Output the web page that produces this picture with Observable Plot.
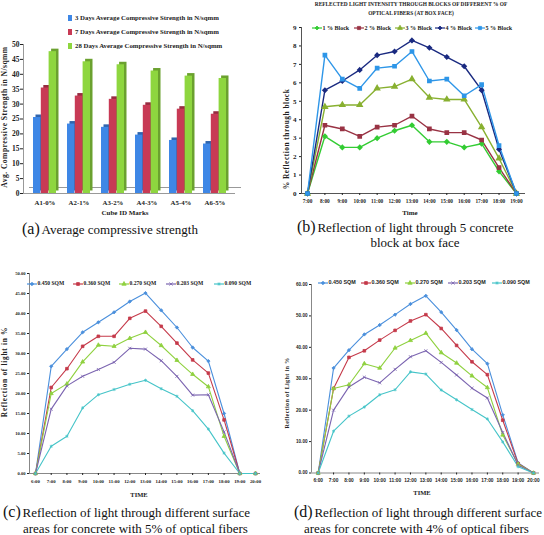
<!DOCTYPE html>
<html><head><meta charset="utf-8">
<script src="https://cdn.jsdelivr.net/npm/d3@7"></script>
<script src="https://cdn.jsdelivr.net/npm/@observablehq/plot@0.6"></script>
<style>
body{margin:0;background:#fff}
#root{position:relative;width:544px;height:535px;overflow:hidden;background:#fff}
.abs{position:absolute;white-space:nowrap;line-height:1}
.plot{position:absolute}
</style></head><body><div id="root"></div>
<script>
// ---------- DATA ----------
const cubeIds = ["A1-0%","A2-1%","A3-2%","A4-3%","A5-4%","A6-5%"];
const strengthSeries = [
  "3 Days Average Compressive Strength in N/sqmm",
  "7 Days Average Compressive Strength in N/sqmm",
  "28 Days Average Compressive Strength in N/sqmm"
];
const days3 = [25.5, 23.3, 22.2, 19.6, 17.8, 16.6];
const days7 = [35.4, 32.7, 31.6, 29.6, 28.3, 26.6];
const days28 = [47.6, 44.2, 43.2, 41.1, 39.4, 38.6];
const strengthTicks = [0,5,10,15,20,25,30,35,40,45,50];

const hoursB = [7,8,9,10,11,12,13,14,15,16,17,18,19];
const blockNames = ["1 % Block","2 % Block","3 % Block","4 % Block","5 % Block"];
const block1 = [0,3.1,2.5,2.5,3.0,3.4,3.7,2.8,2.8,2.5,2.7,1.2,0];
const block2 = [0,3.7,3.5,3.1,3.6,3.7,4.2,3.5,3.3,3.3,2.9,1.4,0];
const block3 = [0,4.7,4.8,4.8,5.7,5.8,6.2,5.2,5.1,5.1,3.6,1.9,0];
const block4 = [0,5.6,6.1,6.7,7.5,7.7,8.3,7.9,7.4,6.9,5.6,2.4,0];
const block5 = [0,7.5,6.2,5.7,6.8,6.9,7.7,6.1,6.2,5.3,5.9,2.6,0];
const blockTicks = [0,1,2,3,4,5,6,7,8,9];

const hoursCD = [6,7,8,9,10,11,12,13,14,15,16,17,18,19,20];
const areaNames = ["0.450 SQM","0.360 SQM","0.270 SQM","0.203 SQM","0.090 SQM"];
const c450 = [0,26.8,31.1,35.3,37.8,40.3,43.0,45.1,40.8,36.5,31.5,28.1,15.0,0,0];
const c360 = [0,21.5,26.2,31.8,34.3,34.3,38.8,40.6,36.8,32.6,28.4,25.1,13.4,0,0];
const c270 = [0,20.0,22.4,27.9,32.1,31.8,33.8,35.3,32.0,28.3,24.8,21.7,9.3,0,0];
const c203 = [0,16.1,21.9,24.3,26.0,27.8,31.3,31.1,28.2,24.3,19.6,19.7,10.4,0,0];
const c090 = [0,6.8,9.3,16.4,19.7,21.0,22.3,23.3,21.2,19.3,15.7,11.1,5.1,0,0];
const cTicks = [0,5,10,15,20,25,30,35,40,45,50];

const d450 = [0,33.4,39.1,44.1,47.1,50.4,53.8,56.4,51.2,45.5,39.4,34.8,18.5,3.2,0];
const d360 = [0,26.9,36.8,38.9,42.3,45.4,48.4,50.4,46.0,40.6,35.4,31.3,16.8,3.0,0];
const d270 = [0,26.9,28.1,34.8,33.4,39.8,42.2,44.5,38.3,35.0,30.9,27.2,12.1,2.8,0];
const d203 = [0,20.0,27.4,30.5,28.7,33.0,37.0,38.9,35.2,31.2,27.0,23.9,12.9,2.5,0];
const d090 = [0,13.3,18.1,21.0,24.9,26.5,32.2,31.5,26.4,23.3,20.2,17.2,9.9,2.0,0];
const dTicks = [0,10,20,30,40,50,60];

// ---------- STYLE ----------
const strengthColors = ["#3e87e6","#c83a55","#8ed63f"];
const blockColors = ["#33cc33","#993344","#88b030","#1a2a80","#2e96e8"];
const blockSymbols = ["diamond2","square","triangle","diamond2","square"];
const areaColors = ["#4a8fdc","#c53a4a","#8fd13f","#7b64b0","#45c4c8"];
const areaSymbols = ["diamond2","square","triangle","times","asterisk"];
const SERIF = '"Liberation Serif", serif';
const SANS = '"Liberation Sans", Arial, sans-serif';

const root = document.getElementById("root");
function tidy(hours, names, values) {
  return names.flatMap((s, j) => hours.map((h, i) => ({hour: h, series: s, value: values[j][i]})));
}
function addText(str, x, y, o = {}) {
  const el = document.createElement("div");
  el.className = "abs";
  el.textContent = str;
  el.style.left = x + "px"; el.style.top = y + "px";
  el.style.fontFamily = o.family || SERIF;
  el.style.fontSize = (o.size || 7) + "px";
  el.style.fontWeight = o.weight || "bold";
  el.style.color = o.color || "#222";
  if (o.spacing) el.style.letterSpacing = o.spacing + "px";
  const anchor = o.anchor || "start";
  const tx = anchor === "middle" ? "-50%" : anchor === "end" ? "-100%" : "0";
  el.style.transform = `translate(${tx},-50%)` + (o.rotate ? " rotate(-90deg)" : "");
  if (o.rotate) { el.style.transformOrigin = "50% 50%"; el.style.transform = "translate(-50%,-50%) rotate(-90deg)"; }
  if (o.html) el.innerHTML = o.html;
  root.appendChild(el);
  return el;
}
const symMap = {diamond2: d3.symbolDiamond2, square: d3.symbolSquare, triangle: d3.symbolTriangle, times: d3.symbolTimes, asterisk: d3.symbolAsterisk};
function legendLine(markerX, y, name, color, sym, o) {
  const ns = "http://www.w3.org/2000/svg";
  const svg = document.createElementNS(ns, "svg");
  svg.setAttribute("width", 10); svg.setAttribute("height", 6);
  svg.style.position = "absolute"; svg.style.left = (markerX - 5) + "px"; svg.style.top = (y - 3) + "px";
  const ln = document.createElementNS(ns, "line");
  ln.setAttribute("x1", 0); ln.setAttribute("x2", 10); ln.setAttribute("y1", 3); ln.setAttribute("y2", 3);
  ln.setAttribute("stroke", color); ln.setAttribute("stroke-width", 1.2);
  svg.appendChild(ln);
  const p = document.createElementNS(ns, "path");
  p.setAttribute("d", d3.symbol(symMap[sym], o.symSize || 10)());
  p.setAttribute("transform", "translate(5,3)");
  p.setAttribute("fill", color); p.setAttribute("stroke", color); p.setAttribute("stroke-width", 0.8);
  svg.appendChild(p);
  root.appendChild(svg);
  addText(name, markerX + 5.5, y, {size: o.size, family: o.family});
}
function place(svg, left, top) {
  const d = document.createElement("div");
  d.className = "plot"; d.style.left = left + "px"; d.style.top = top + "px";
  d.appendChild(svg); root.appendChild(d);
}

// ---------- PANEL A ----------
{
  const W = 272, H = 218, ML = 23, MR = 37, MT = 44, MB = 25;
  const pIn = 0.33, pOut = 0.2;
  const bw = d3.scaleBand().domain(cubeIds).range([ML, W - MR]).paddingInner(pIn).paddingOuter(pOut).bandwidth();
  const third = bw / 3;
  const vals = [days3, days7, days28];
  const marks = [
    Plot.ruleY([0], {stroke: "#999", dx: 6, dy: -6}),
    Plot.ruleY([0], {stroke: "#999"}),
    Plot.frame({anchor: "left", stroke: "#999"}),
    Plot.axisY({ticks: strengthTicks, tickSize: 3, tickPadding: 1, fontSize: 7.5, label: null}),
    Plot.axisX({tickSize: 0, tickPadding: 7, fontSize: 6.8, label: null})
  ];
  strengthSeries.forEach((s, j) => {
    const rows = cubeIds.map((id, i) => ({id, value: vals[j][i]}));
    const inset = {insetLeft: j * third, insetRight: (2 - j) * third};
    marks.push(Plot.barY(rows, {x: "id", y: "value", fill: d3.color(strengthColors[j]).darker(0.8).formatHex(), dx: 2.5, dy: -2.5, ...inset}));
    marks.push(Plot.barY(rows, {x: "id", y: "value", fill: strengthColors[j], ...inset}));
  });
  const svg = Plot.plot({
    width: W, height: H, marginLeft: ML, marginRight: MR, marginTop: MT, marginBottom: MB,
    style: {fontFamily: SERIF, fontWeight: "bold", color: "#222", background: "transparent"},
    x: {domain: cubeIds, paddingInner: pIn, paddingOuter: pOut},
    y: {domain: [0, 50]},
    marks
  });
  place(svg, 0, 0);
  const ly = [18.3, 32.3, 45.7];
  strengthSeries.forEach((s, j) => {
    const sw = document.createElement("div");
    sw.style.cssText = `position:absolute;left:68px;top:${ly[j]-3}px;width:4px;height:6px;background:${strengthColors[j]}`;
    root.appendChild(sw);
    addText(s, 75, ly[j], {size: 6.8});
  });
  addText("Avg. Compressive Strength in N/sqmm", 5, 117, {size: 7.6, rotate: true, spacing: 0.45});
  addText("Cube ID Marks", 125, 213, {size: 7, anchor: "middle"});
  addText("", 22, 229, {weight: "normal", color: "#111", html: '<span style="font-size:16px">(a)</span> <span style="font-size:13px">Average compressive strength</span>'});
}

// ---------- PANEL B ----------
{
  const W = 272, H = 218, ML = 29, MR = 19, MT = 27, MB = 25;
  const x0 = 6.656, x1 = 19.52;
  const rows = tidy(hoursB, blockNames, [block1, block2, block3, block4, block5]);
  const svg = Plot.plot({
    width: W, height: H, marginLeft: ML, marginRight: MR, marginTop: MT, marginBottom: MB,
    style: {fontFamily: SERIF, fontWeight: "bold", color: "#222", background: "transparent"},
    x: {domain: [x0, x1]}, y: {domain: [0, 9]},
    color: {domain: blockNames, range: blockColors},
    symbol: {domain: blockNames, range: blockSymbols},
    marks: [
      Plot.ruleY([0], {stroke: "#555"}),
      Plot.ruleX([x0], {stroke: "#555"}),
      Plot.axisY({ticks: blockTicks, tickSize: 2, tickPadding: 3, fontSize: 7, label: null}),
      Plot.axisX({ticks: hoursB, tickFormat: d => d + ":00", tickSize: 2, tickPadding: 4, fontSize: 5.3, label: null}),
      Plot.line(rows, {x: "hour", y: "value", z: "series", stroke: "series", strokeWidth: 1.4}),
      Plot.dot(rows, {x: "hour", y: "value", symbol: "series", fill: "series", stroke: "series", r: 1.8})
    ]
  });
  place(svg, 272, 0);
  addText("REFLECTED LIGHT INTENSITY THROUGH BLOCKS OF DIFFERENT % OF", 411, 5, {size: 5.4, anchor: "middle"});
  addText("OPTICAL  FIBERS (AT BOX FACE)", 411, 14, {size: 5.4, anchor: "middle"});
  const mx = [317, 359, 400, 440, 480];
  blockNames.forEach((n, j) => legendLine(mx[j], 28.3, n, blockColors[j], blockSymbols[j], {size: 6}));
  addText("% Reflection through block", 287, 139, {size: 7.4, rotate: true, spacing: 0.5});
  addText("Time", 410, 213, {size: 7, anchor: "middle"});
  addText("", 297, 227, {weight: "normal", color: "#111", html: '<span style="font-size:16px">(b)</span> <span style="font-size:13px">Reflection of light through 5 concrete</span>'});
  addText("block at box face", 415, 242, {weight: "normal", color: "#111", size: 13, anchor: "middle"});
}

// ---------- PANEL C & D ----------
function areaPanel(o) {
  const rows = tidy(hoursCD, areaNames, o.values);
  const svg = Plot.plot({
    width: 272, height: 240, marginLeft: o.ML, marginRight: o.MR, marginTop: o.MT, marginBottom: o.MB,
    style: {fontFamily: o.tickFamily, fontWeight: "bold", color: "#222", background: "transparent"},
    x: {domain: [o.x0, o.x1]}, y: {domain: o.ydom},
    color: {domain: areaNames, range: areaColors},
    symbol: {domain: areaNames, range: areaSymbols},
    marks: [
      Plot.ruleY([0], {stroke: "#888"}),
      Plot.ruleX([o.x0], {stroke: "#888"}),
      Plot.axisY({ticks: o.yticks, tickFormat: d3.format(".2f"), tickSize: 2, tickPadding: 2, fontSize: 4.6, label: null}),
      Plot.axisX({ticks: hoursCD, tickFormat: d => d + ":00", tickSize: 2, tickPadding: 4, fontSize: 4.8, label: null}),
      Plot.line(rows, {x: "hour", y: "value", z: "series", stroke: "series", strokeWidth: 1.1}),
      Plot.dot(rows, {x: "hour", y: "value", symbol: "series", fill: "series", stroke: "series", r: 1.5, strokeWidth: 0.8})
    ]
  });
  place(svg, o.left, 262);
}
areaPanel({left: 0, ML: 29, MR: 12, MT: 11, MB: 29, x0: 5.618, x1: 20.318, ydom: [0, 50], yticks: cTicks,
  values: [c450, c360, c270, c203, c090], tickFamily: SERIF});
{
  const mx = [32, 78, 124, 171, 219];
  areaNames.forEach((n, j) => legendLine(mx[j], 284, n, areaColors[j], areaSymbols[j], {size: 5.6, symSize: 8}));
  addText("Reflection of light in %", 5, 372, {size: 7.4, rotate: true, spacing: 0.7});
  addText("TIME", 139, 495, {size: 6.5, anchor: "middle"});
  addText("", 3, 512, {weight: "normal", color: "#111", html: '<span style="font-size:16px">(c)</span> <span style="font-size:13px">Reflection of light through different surface</span>'});
  addText("areas for concrete with 5% of optical fibers", 23, 528, {weight: "normal", color: "#111", size: 13});
}
areaPanel({left: 272, ML: 39, MR: 5, MT: 22, MB: 29.5, x0: 5.565, x1: 20.39, ydom: [0, 60], yticks: dTicks,
  values: [d450, d360, d270, d203, d090], tickFamily: SANS});
{
  const mx = [323, 366, 410, 453, 497];
  areaNames.forEach((n, j) => legendLine(mx[j], 283, n, areaColors[j], areaSymbols[j], {size: 5.4, symSize: 8, family: SANS}));
  addText("Reflection of Light in %", 287, 393, {size: 6.2, rotate: true, spacing: 0.3});
  addText("TIME", 422, 493, {size: 6.5, anchor: "middle"});
  addText("", 294, 512, {weight: "normal", color: "#111", html: '<span style="font-size:16px">(d)</span> <span style="font-size:13px">Reflection of light through different surface</span>'});
  addText("areas for concrete with 4% of optical fibers", 304, 528, {weight: "normal", color: "#111", size: 13});
}
</script>
</body></html>
